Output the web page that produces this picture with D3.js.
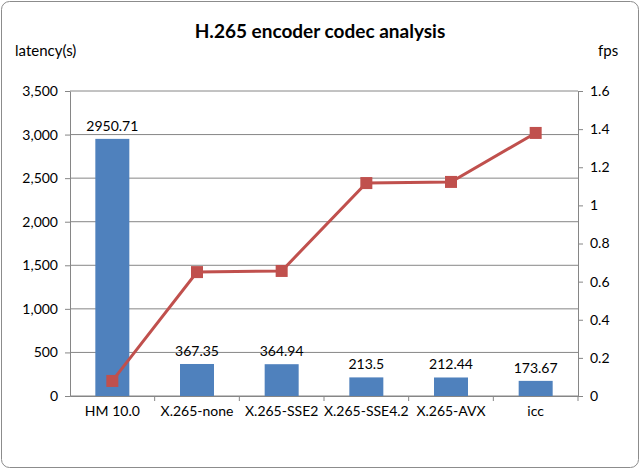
<!DOCTYPE html>
<html><head><meta charset="utf-8">
<script src="https://cdn.jsdelivr.net/npm/d3@7"></script>
<style>body{margin:0;background:#fff}text{font-family:Lato,"Open Sans",sans-serif}</style>
</head><body><svg id="c" width="640" height="469"></svg>
<script>
var categories = ["HM 10.0", "X.265-none", "X.265-SSE2", "X.265-SSE4.2", "X.265-AVX", "icc"];
var latency = [2950.71, 367.35, 364.94, 213.5, 212.44, 173.67];
var fps = [0.079, 0.65, 0.656, 1.117, 1.123, 1.38];
var leftTicks = d3.range(0, 3501, 500);
var rightTicks = [0, 0.2, 0.4, 0.6, 0.8, 1, 1.2, 1.4, 1.6];

var svg = d3.select("#c");
var m = {left: 70, right: 578, top: 91, bottom: 396};

svg.append("rect").attr("x", 1.5).attr("y", 1.5).attr("width", 637).attr("height", 466)
	.attr("rx", 8).attr("fill", "#fff").attr("stroke", "#8c8c8c");

var x = d3.scaleBand().domain(categories).range([m.left, m.right]);
var yL = d3.scaleLinear().domain([0, 3500]).range([m.bottom, m.top]);
var yR = d3.scaleLinear().domain([0, 1.6]).range([m.bottom, m.top]);

// gridlines
svg.append("g").selectAll("line").data(leftTicks).join("line")
	.attr("x1", m.left).attr("x2", m.right)
	.attr("y1", function(d){ return yL(d); }).attr("y2", function(d){ return yL(d); })
	.attr("stroke", "#868686").attr("stroke-width", 1);

var gl = svg.append("g").attr("transform", "translate(" + m.left + ",0)")
	.call(d3.axisLeft(yL).tickValues(leftTicks).tickSize(5).tickSizeOuter(0));
var gr = svg.append("g").attr("transform", "translate(" + m.right + ",0)")
	.call(d3.axisRight(yR).tickValues(rightTicks).tickSize(5).tickSizeOuter(0).tickFormat(d3.format("~g")));
var gb = svg.append("g").attr("transform", "translate(0," + m.bottom + ")")
	.call(d3.axisBottom(x).tickSize(5).tickSizeOuter(0));
gb.selectAll(".tick line").attr("transform", "translate(" + (x.bandwidth() / 2) + ",0)");
[gl, gr, gb].forEach(function(g){
	g.selectAll("path,line").attr("stroke", "#868686");
	g.selectAll("text").attr("font-size", 14).attr("fill", "#000");
});
gl.selectAll("text").attr("x", -12);
gr.selectAll("text").attr("x", 12);
gb.selectAll("text").attr("y", 10);

var bw = 34;
svg.append("g").selectAll("rect").data(latency).join("rect")
	.attr("x", function(d, i){ return x(categories[i]) + x.bandwidth() / 2 - bw / 2; })
	.attr("y", function(d){ return yL(d); })
	.attr("width", bw).attr("height", function(d){ return m.bottom - yL(d); })
	.attr("fill", "#4f81bd");
svg.append("g").selectAll("text").data(latency).join("text")
	.attr("x", function(d, i){ return x(categories[i]) + x.bandwidth() / 2; })
	.attr("y", function(d){ return yL(d) - 8; })
	.attr("text-anchor", "middle").attr("font-size", 14)
	.text(function(d){ return d; });

var line = d3.line()
	.x(function(d, i){ return x(categories[i]) + x.bandwidth() / 2; })
	.y(function(d){ return yR(d); });
svg.append("path").datum(fps).attr("d", line).attr("fill", "none")
	.attr("stroke", "#c0504d").attr("stroke-width", 3);
svg.append("g").selectAll("rect").data(fps).join("rect")
	.attr("x", function(d, i){ return x(categories[i]) + x.bandwidth() / 2 - 6; })
	.attr("y", function(d){ return yR(d) - 6; })
	.attr("width", 12).attr("height", 12).attr("fill", "#c0504d");

svg.append("text").attr("x", 320).attr("y", 38).attr("text-anchor", "middle")
	.attr("font-size", 19).attr("font-weight", "bold").text("H.265 encoder codec analysis");
svg.append("text").attr("x", 15).attr("y", 56).attr("font-size", 15).text("latency(s)");
svg.append("text").attr("x", 598).attr("y", 56).attr("font-size", 15).text("fps");
</script></body></html>
